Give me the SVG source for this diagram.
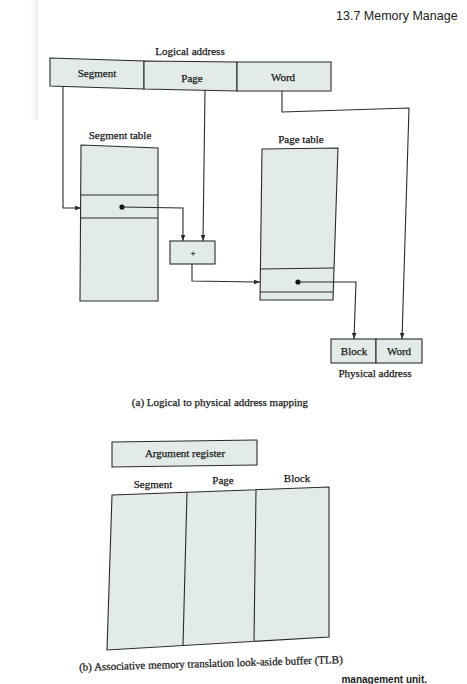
<svg xmlns="http://www.w3.org/2000/svg" width="467" height="684" viewBox="0 0 467 684">
<defs>
<style>
.cell{fill:#e3ebe8;stroke:#2a2a2a;stroke-width:1.1}
.ln{fill:none;stroke:#2a2a2a;stroke-width:1.1}
.t{font-family:"Liberation Serif","Times New Roman",serif;font-size:11px;fill:#1a1a1a;stroke:#1a1a1a;stroke-width:0.25;text-anchor:middle}
.s{font-family:"Liberation Sans",Arial,sans-serif;font-size:12.5px;fill:#222}
</style>
<marker id="ah" viewBox="0 0 8 8" refX="8" refY="4" markerWidth="6" markerHeight="6" orient="auto" markerUnits="userSpaceOnUse">
<path d="M0,1 L8,4 L0,7 Z" fill="#2a2a2a"/>
</marker>
<linearGradient id="shade" x1="0" y1="0" x2="1" y2="0">
<stop offset="0" stop-color="#ffffff" stop-opacity="0"/>
<stop offset="1" stop-color="#e2dce1" stop-opacity="0.6"/>
</linearGradient>
</defs>
<rect width="467" height="684" fill="#ffffff"/>
<rect x="28" y="0" width="10" height="120" fill="url(#shade)"/>
<text class="s" x="336" y="20">13.7  Memory Manage</text>

<g id="logical-address">
<text class="t" x="190" y="55">Logical address</text>
<path class="cell" d="M50,58 L144,61 L144,89 L50,86 Z"/>
<path class="cell" d="M144,61 L237,62 L237,91 L144,89 Z"/>
<path class="cell" d="M237,62 L331,62 L331,91 L237,91 Z"/>
<text class="t" x="97" y="77">Segment</text>
<text class="t" x="192" y="82">Page</text>
<text class="t" x="283" y="81">Word</text>
</g>

<g id="segment-table">
<text class="t" x="120" y="139">Segment table</text>
<path class="cell" d="M81,145 L158,148 L158,301 L80,301 Z"/>
<line class="ln" x1="81" y1="195" x2="158" y2="195"/>
<line class="ln" x1="81" y1="218" x2="158" y2="218"/>
</g>

<g id="adder">
<rect class="cell" x="170" y="241" width="45" height="23"/>
<text class="t" x="193" y="256" style="font-size:9px">+</text>
</g>

<g id="page-table">
<text class="t" x="301" y="143">Page table</text>
<path class="cell" d="M262,149 L338,148 L333,300 L260,300 Z"/>
<line class="ln" x1="260" y1="269" x2="334" y2="268"/>
<line class="ln" x1="260" y1="292" x2="333" y2="292"/>
</g>

<g id="physical-address">
<rect class="cell" x="331" y="339" width="45" height="24"/>
<rect class="cell" x="376" y="339" width="46" height="24"/>
<text class="t" x="354" y="355">Block</text>
<text class="t" x="399" y="355">Word</text>
<text class="t" x="375" y="377">Physical address</text>
</g>

<g id="connectors">
<path class="ln" d="M63,86 L63,208 L81,208" marker-end="url(#ah)"/>
<path class="ln" d="M205,90 L203,241" marker-end="url(#ah)"/>
<path class="ln" d="M282,91 L282,112 L409,108 L402,339" marker-end="url(#ah)"/>
<circle cx="122" cy="207" r="2.6" fill="#111"/>
<path class="ln" d="M122,207 L183,208 L183,241" marker-end="url(#ah)"/>
<path class="ln" d="M192,264 L192,281 L260,282" marker-end="url(#ah)"/>
<circle cx="298" cy="282" r="2.6" fill="#111"/>
<path class="ln" d="M298,282 L356,282 L354,339" marker-end="url(#ah)"/>
</g>

<text class="t" x="220" y="406">(a) Logical to physical address mapping</text>

<g id="argument-register">
<path class="cell" d="M112,442 L257,440 L257,465 L112,467 Z"/>
<text class="t" x="185" y="457">Argument register</text>
</g>

<g id="tlb">
<text class="t" x="153" y="488">Segment</text>
<text class="t" x="223" y="484">Page</text>
<text class="t" x="297" y="482">Block</text>
<path class="cell" d="M112,495 L329,487 L329,637 L107,650 Z"/>
<line class="ln" x1="187" y1="492" x2="183" y2="646"/>
<line class="ln" x1="256" y1="490" x2="254" y2="641"/>
</g>

<text class="t" x="211" y="667" transform="rotate(-1.7 211 667)">(b) Associative memory translation look-aside buffer (TLB)</text>
<text class="s" x="427" y="683" text-anchor="end" style="font-size:10px;font-weight:bold">management unit.</text>
</svg>
